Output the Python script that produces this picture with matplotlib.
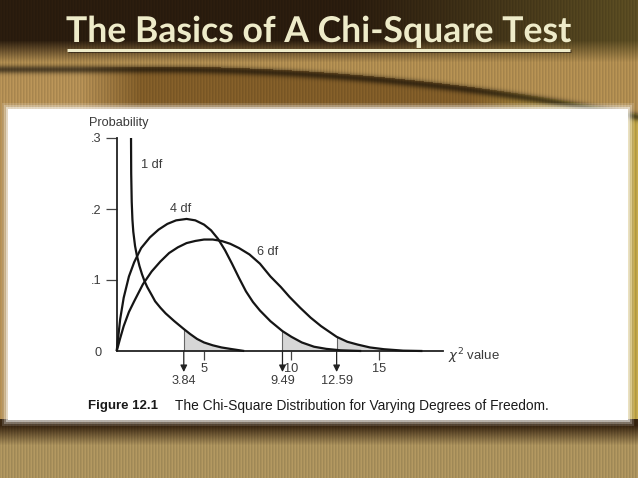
import numpy as np
import matplotlib.pyplot as plt
import matplotlib.patheffects as pe
from matplotlib.patches import Rectangle

# curves (x = chi-square value, y = probability)
df1_x = [0.82, 0.83, 0.86, 0.90, 0.95, 1.05, 1.15, 1.3, 1.45, 1.6, 1.75, 2.0, 2.2, 2.5,
         2.8, 3.3, 3.84, 4.2, 4.6, 5.0, 5.5, 6.0, 6.5, 7.3]
df1_y = [0.300, 0.250, 0.210, 0.185, 0.168, 0.148, 0.135, 0.120, 0.108, 0.098, 0.090,
         0.079, 0.070, 0.061, 0.053, 0.042, 0.031, 0.024, 0.017, 0.012, 0.008, 0.005,
         0.003, 0.000]
df4_x = [0, 0.2, 0.4, 0.7, 1.0, 1.4, 1.9, 2.4, 2.9, 3.4, 4.0, 4.5, 5.0, 5.4, 5.8, 6.2,
         6.6, 7.0, 7.4, 7.8, 8.2, 8.8, 9.49, 10.0, 10.6, 11.3, 12.0, 12.8, 14.0]
df4_y = [0, 0.045, 0.075, 0.105, 0.125, 0.145, 0.160, 0.171, 0.179, 0.184, 0.186, 0.184,
         0.178, 0.170, 0.158, 0.142, 0.123, 0.103, 0.084, 0.069, 0.057, 0.042, 0.028,
         0.020, 0.012, 0.006, 0.003, 0.001, 0.0]
df6_x = [0, 0.2, 0.4, 0.7, 1.0, 1.5, 2.0, 2.5, 3.0, 3.5, 4.0, 4.5, 5.0, 5.5, 6.0, 6.5,
         7.0, 7.6, 8.2, 8.8, 9.4, 9.9, 10.5, 11.1, 11.7, 12.59, 13.2, 13.8, 14.5, 15.3,
         16.4, 17.5]
df6_y = [0, 0.018, 0.035, 0.055, 0.070, 0.094, 0.112, 0.126, 0.138, 0.146, 0.152, 0.155,
         0.157, 0.157, 0.155, 0.151, 0.145, 0.136, 0.123, 0.105, 0.090, 0.076, 0.061,
         0.047, 0.035, 0.020, 0.013, 0.009, 0.005, 0.0025, 0.0005, 0]

curve_labels = ["1 df", "4 df", "6 df"]
label_pos = [(1.40, 0.262), (3.05, 0.200), (8.03, 0.139)]
critical = [3.84, 9.49, 12.59]
critical_labels = ["3.84", "9.49", "12.59"]
x_ticks = [5, 10, 15]
y_ticks = [0, 0.1, 0.2, 0.3]
y_tick_labels = ["0", ".1", ".2", ".3"]

W, H = 638, 478
fig = plt.figure(figsize=(W / 100, H / 100), dpi=100)

# slide background
bg = fig.add_axes([0, 0, 1, 1])
yy, xx = np.mgrid[0:H, 0:W].astype(float)
img = np.zeros((H, W, 3))
top_dark = np.array([42, 28, 14])
top_olive = np.array([90, 76, 34])
tan = np.array([175, 140, 80])
f = np.clip((xx - 350) / 288, 0, 1)[..., None]
band = top_dark * (1 - f) + top_olive * f
t = np.clip((yy - 40) / 22, 0, 1)[..., None]
img[:] = band * (1 - t) + tan * t
arc = 66 + 0.0002 * np.clip(xx - 150, 0, None) ** 2
below = yy > arc
gold_mid = np.array([128, 92, 40])
gold_left = np.array([178, 142, 84])
gold_right = np.array([188, 162, 72])
wl = np.clip((140 - xx) / 60, 0, 1)[..., None]
wr = np.clip((xx - 470) / 120, 0, 1)[..., None]
lower = gold_mid * (1 - wl - wr) + gold_left * wl + gold_right * wr
img[below] = lower[below]
edge = np.exp(-((yy - arc - 3) / 4.0) ** 2)[..., None]
img = img * (1 - 0.55 * edge)
bot = yy > 418
bt = np.clip((yy - 425) / 20, 0, 1)[..., None]
bottom_col = np.array([55, 36, 16]) * (1 - bt) + np.array([170, 145, 92]) * bt
img[bot] = bottom_col[bot]
stripes = 1 + 0.07 * np.sin(2 * np.pi * xx / 3.0)
img = np.clip(img * stripes[..., None], 0, 255) / 255.0
bg.imshow(img, extent=[0, W, H, 0], aspect="auto", interpolation="bilinear")
for pad, a in [(6, 0.15), (4, 0.25), (2, 0.45)]:
    bg.add_patch(Rectangle((8 - pad, 109 - pad), 620 + 2 * pad, 311 + 2 * pad,
                           facecolor="white", edgecolor="none", alpha=a))
bg.add_patch(Rectangle((8, 109), 620, 311, facecolor="white", edgecolor="none"))
bg.set_xlim(0, W)
bg.set_ylim(H, 0)
bg.axis("off")

# title
title_col = "#eeebc9"
fig.text(318.5 / W, 1 - 42 / H, "The Basics of A Chi-Square Test", ha="center",
         va="baseline", fontsize=25.6, fontweight="bold", family="Lato", color=title_col,
         path_effects=[pe.SimpleLineShadow(offset=(1.2, -1.2), shadow_color="#1a1008", alpha=0.7),
                       pe.Normal()])
bg.plot([67, 570], [50, 50], color=title_col, lw=2.2, solid_capstyle="butt",
        path_effects=[pe.SimpleLineShadow(offset=(1, -1), shadow_color="#1a1008", alpha=0.6),
                      pe.Normal()])

# chart
ax = fig.add_axes([116.7 / W, 127 / H, 331.9 / W, 213 / H])
ax.set_facecolor("none")
ax.set_xlim(0, 19)
ax.set_ylim(0, 0.3)
for s in ["top", "right"]:
    ax.spines[s].set_visible(False)
ax.spines["left"].set_bounds(0, 0.3)
ax.spines["bottom"].set_bounds(0, 18.7)
for s in ["left", "bottom"]:
    ax.spines[s].set_linewidth(1.3)
    ax.spines[s].set_color("#222222")

curves = [(df1_x, df1_y), (df4_x, df4_y), (df6_x, df6_y)]
for (cx, cy), c in zip(curves, critical):
    cx = np.array(cx)
    cy = np.array(cy)
    m = cx >= c
    ax.fill_between(cx[m], cy[m], 0, color="#d6d6d6", lw=0, zorder=1)
    top = cy[np.argmin(np.abs(cx - c))]
    ax.plot([c, c], [0, top], color="#666666", lw=0.8, zorder=2)
    ax.annotate("", xy=(c, -0.0296), xytext=(c, 0.0),
                arrowprops=dict(arrowstyle="-|>", color="#222222", lw=0.9,
                                mutation_scale=10, shrinkA=0, shrinkB=0),
                annotation_clip=False)
for cx, cy in curves:
    ax.plot(cx, cy, color="#151515", lw=1.6, zorder=3, clip_on=False,
            solid_capstyle="butt", solid_joinstyle="round")

txt = dict(fontsize=9.2, family="Liberation Sans", color="#3a3a3a")
for lab, (lx, ly) in zip(curve_labels, label_pos):
    ax.text(lx, ly, lab, ha="left", va="center", **txt)
for c, lab in zip(critical, critical_labels):
    ax.text(c, -0.042, lab, ha="center", va="center", **txt)
ax.text(-1.59, 0.321, "Probability", ha="left", va="center", **txt)
ax.text(18.96, -0.007, r"$\chi^2$ value", ha="left", va="center",
        fontsize=9.5, family="Liberation Sans", color="#3a3a3a")

ax.set_xticks(x_ticks)
ax.set_xticklabels([str(t) for t in x_ticks])
ax.set_yticks(y_ticks)
ax.set_yticklabels(y_tick_labels)
ax.tick_params(axis="x", direction="out", length=6.5, width=0.9, color="#444444",
               pad=2, labelsize=9.2, labelcolor="#3a3a3a")
ax.tick_params(axis="y", direction="out", length=8, width=0.9, color="#444444",
               pad=3, labelsize=9.2, labelcolor="#3a3a3a")
ax.yaxis.get_major_ticks()[0].tick1line.set_visible(False)
for lab in ax.get_xticklabels() + ax.get_yticklabels():
    lab.set_family("Liberation Sans")

# caption
fig.text(88 / W, 1 - 406 / H, "Figure 12.1", ha="left", va="center", fontsize=9.5,
         fontweight="bold", family="Liberation Sans", color="#1a1a1a")
fig.text(175 / W, 1 - 406 / H, "The Chi-Square Distribution for Varying Degrees of Freedom.",
         ha="left", va="center", fontsize=9.9, family="Liberation Sans", color="#1a1a1a")

fig.savefig("out.png", dpi=100)
